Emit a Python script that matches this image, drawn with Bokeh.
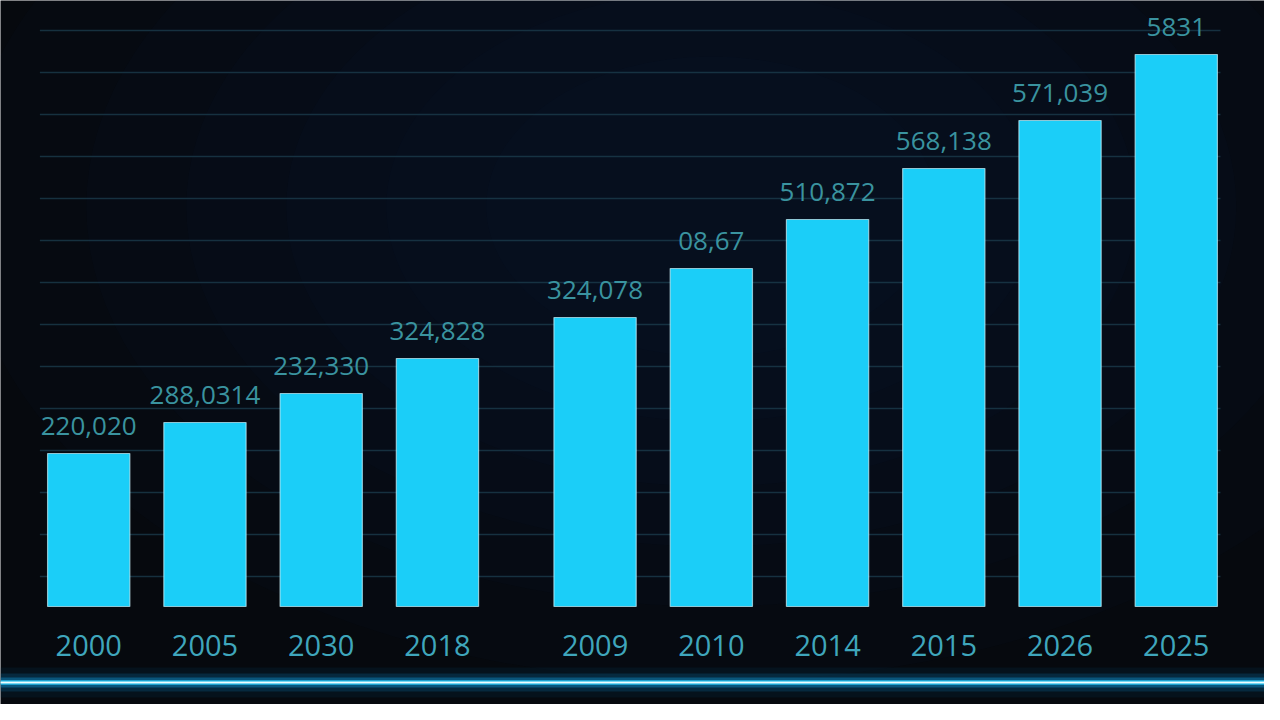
import numpy as np
from bokeh.plotting import figure
from bokeh.models import ColumnDataSource, FactorRange, Range1d
from bokeh.core.properties import value
from bokeh.embed import file_html
from bokeh.resources import INLINE

# ---- data ----
groups = ["A", "A", "A", "A", "B", "B", "B", "B", "B", "B"]
years = ["2000", "2005", "2030", "2018", "2009", "2010", "2014", "2015", "2026", "2025"]
heights = [153, 184, 213, 248, 289, 338, 387, 438, 486, 552]
value_labels = ["220,020", "288,0314", "232,330", "324,828", "324,078",
                "08,67", "510,872", "568,138", "571,039", "5831"]
grid_levels = [30, 72, 114, 156, 198, 240, 282, 324, 366, 408, 450, 492, 534, 576]

# ---- styling constants ----
BG = "#06090e"
BAR = "#1bcef8"
LABEL_GAP = 28
YEAR_Y = -39
GLOW_Y = -76

factors = list(zip(groups, years))

src = ColumnDataSource(dict(
    x=factors,
    top=heights,
    label=value_labels,
    label_y=list(np.array(heights) + LABEL_GAP),
    year=years,
    year_y=[YEAR_Y] * len(years),
))

p = figure(width=1264, height=704,
           x_range=FactorRange(*factors, group_padding=0.356, range_padding=0.05),
           y_range=Range1d(-98, 606),
           output_backend="svg", toolbar_location=None,
           x_axis_location=None, y_axis_location=None,
           min_border=0, background_fill_color=BG, border_fill_color=BG,
           outline_line_color=None)
p.grid.visible = False

# soft bluish glow in the background
for w, h in [(1500, 950), (1250, 800), (1050, 680), (850, 560), (650, 430), (450, 300)]:
    p.ellipse(x=[factors[5]], y=[400], width=w, height=h,
              width_units="screen", height_units="screen",
              fill_color="#1a3f60", fill_alpha=0.04, line_color=None)

# horizontal guide lines (limited extent)
first, last = factors[0], factors[-1]
gsrc = ColumnDataSource(dict(
    x0=[(first[0], first[1], -0.42)] * len(grid_levels),
    x1=[(last[0], last[1], 0.38)] * len(grid_levels),
    y=grid_levels,
))
p.segment(x0="x0", y0="y", x1="x1", y1="y", source=gsrc,
          line_color="#1a3b4b", line_width=1.5, line_alpha=0.8)

# bars
p.vbar(x="x", top="top", bottom=0, width=0.708, source=src,
       fill_color=BAR, line_color="#d2f7ff", line_width=1.2, line_alpha=0.65)

# value labels
p.text(x="x", y="label_y", text="label", source=src,
       text_font=value("Open Sans"), text_font_size="26px",
       text_color="#3a939f", text_align="center", text_baseline="middle")

# year labels
p.text(x="x", y="year_y", text="year", source=src,
       text_font=value("Open Sans"), text_font_size="29px",
       text_color="#3fa6bc", text_align="center", text_baseline="middle")

# glowing floor line
for lw, col, a in [(30, "#073f60", 0.18), (18, "#0a6fa5", 0.25), (10, "#0f98d6", 0.4),
                   (5, "#26c0f2", 0.7), (2.5, "#9fefff", 0.95), (1.2, "#f0fdff", 1.0)]:
    p.hspan(y=[GLOW_Y], line_width=lw, line_color=col, line_alpha=a)

html = file_html(p, INLINE)
html = html.replace("<body>", '<body style="background-color:#05080c;">', 1)
open("out.html", "w").write(html)
